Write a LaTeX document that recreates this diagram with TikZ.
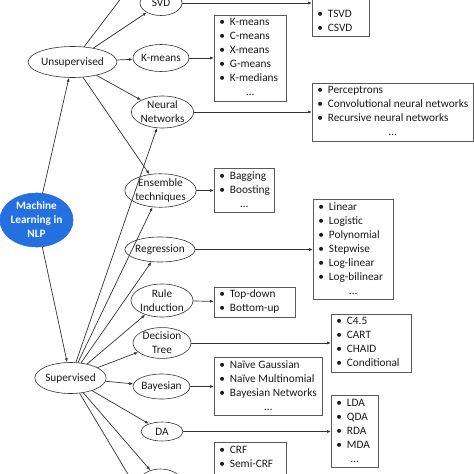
\documentclass[tikz,border=0pt]{standalone}
\usepackage{fontspec}
\usepackage{array}
\setmainfont{Carlito}
\usetikzlibrary{arrows.meta,%
		shapes.geometric,%
		positioning}
\definecolor{mlblue}{RGB}{36,112,224}
\newcommand{\itm}[1]{\textbullet\hspace{5pt}#1\\}
\newcommand{\etc}{\multicolumn{1}{@{}c@{}}{\dots}\\}
\newcommand{\gap}{\mbox{}\\}
\newcommand{\lst}[2]{\begin{tabular}{@{}w{l}{#1}@{}}#2\end{tabular}}

\begin{document}
\begin{tikzpicture}[x=1pt,y=-1pt,font=\fontsize{11.3}{14}\selectfont,
  ell/.style={ellipse, draw=black!80, line width=0.6pt, inner sep=0pt, align=center, text=black!90},
  lbox/.style={draw=black!65, line width=0.6pt, inner xsep=5pt, inner ysep=1pt, anchor=west, text=black!90},
  arr/.style={-{Latex[length=4pt,width=3pt]}, draw=black!80, line width=0.7pt}]
  \useasboundingbox (0,0) rectangle (474,474);
  \clip (0,0) rectangle (474,474);

  % root and the two branches
  \node [ell, fill=mlblue, draw=mlblue, text=white, font=\fontsize{11.3}{14}\selectfont\bfseries,
         minimum width=71pt, minimum height=54pt] (ml) at (36.5,220) {Machine\\Learning in\\NLP};
  \node [ell, minimum width=71pt, minimum height=31pt] (uns) at (72.5,62) {Unsupervised};
  \node [ell, minimum width=65pt, minimum height=31pt] (sup) at (70.5,378) {Supervised};

  % methods
  \node [ell, minimum width=42pt, minimum height=25pt] (svd) at (161,3) {SVD};
  \node [ell, minimum width=56pt, minimum height=27pt] (km) at (161,58) {K-means};
  \node [ell, minimum width=61pt, minimum height=32pt] (nn) at (162.5,112) {Neural\\Networks};
  \node [ell, minimum width=65pt, minimum height=31pt] (ens) at (160.5,190.5) {Ensemble\\techniques};
  \node [ell, minimum width=58pt, minimum height=25pt] (reg) at (160,249.5) {Regression};
  \node [ell, minimum width=62pt, minimum height=33pt] (rule) at (162,300.5) {Rule\\Induction};
  \node [ell, minimum width=58pt, minimum height=28pt] (dt) at (162,343) {Decision\\Tree};
  \node [ell, minimum width=57pt, minimum height=25pt] (bay) at (161.5,386.5) {Bayesian};
  \node [ell, minimum width=42pt, minimum height=19pt] (da) at (162,431.5) {DA};
  \node [ell, minimum width=42pt, minimum height=26pt] (seq) at (160.5,482) {};
  \coordinate (uoff) at (154,-45);
  \coordinate (soff) at (150,511);

  % lists
  \node [lbox, anchor=south west] (svdbox) at (312,37) {\lst{47pt}{\gap\itm{TSVD}\itm{CSVD}}};
  \node [lbox] (kmbox) at (214,58) {\lst{62pt}{\itm{K-means}\itm{C-means}\itm{X-means}\itm{G-means}\itm{K-medians}\etc}};
  \node [lbox] (nnbox) at (312,112) {\lst{151pt}{\itm{Perceptrons}\itm{Convolutional neural networks}\itm{Recursive neural networks}\etc}};
  \node [lbox] (ensbox) at (214,190.5) {\lst{50pt}{\itm{Bagging}\itm{Boosting}\etc}};
  \node [lbox] (regbox) at (313,249.5) {\lst{70pt}{\itm{Linear}\itm{Logistic}\itm{Polynomial}\itm{Stepwise}\itm{Log-linear}\itm{Log-bilinear}\etc}};
  \node [lbox] (rulebox) at (214,302) {\lst{71pt}{\itm{Top-down}\itm{Bottom-up}}};
  \node [lbox] (dtbox) at (331,343) {\lst{70pt}{\itm{C4.5}\itm{CART}\itm{CHAID}\itm{Conditional}}};
  \node [lbox] (baybox) at (214,386.5) {\lst{98pt}{\itm{Na\"ive Gaussian}\itm{Na\"ive Multinomial}\itm{Bayesian Networks}\etc}};
  \node [lbox] (dabox) at (331,431.5) {\lst{37pt}{\itm{LDA}\itm{QDA}\itm{RDA}\itm{MDA}\etc}};
  \node [lbox, anchor=north west] (crfbox) at (214,442) {\lst{62pt}{\itm{CRF}\itm{Semi-CRF}\gap\gap}};

  % connectors
  \draw [arr] (ml) -- (uns);
  \draw [arr] (ml) -- (sup);
  \draw [arr] (uns) -- (uoff);
  \foreach \t in {svd,km,nn,ens}
    \draw [arr] (uns) -- (\t);
  \foreach \t in {nn,ens,reg,rule,dt,bay,da,seq}
    \draw [arr] (sup) -- (\t);
  \draw [arr] (sup) -- (soff);
  \draw [arr] (svd) -- (svd -| svdbox.west);
  \draw [arr] (km) -- (kmbox);
  \draw [arr] (nn) -- (nnbox);
  \draw [arr] (ens) -- (ensbox);
  \draw [arr] (reg) -- (regbox);
  \draw [arr] (rule) -- (rulebox);
  \draw [arr] (dt) -- (dtbox);
  \draw [arr] (bay) -- (baybox);
  \draw [arr] (da) -- (dabox);
\end{tikzpicture}
\end{document}
